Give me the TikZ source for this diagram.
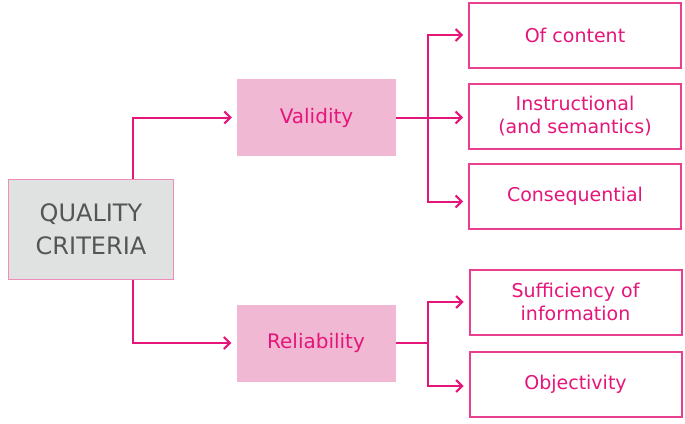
\documentclass[tikz,border=0pt]{standalone}
\usepackage{fontspec}
\setmainfont{DejaVu Sans}
\usetikzlibrary{arrows.meta}
\definecolor{pk}{HTML}{E5157A}
\definecolor{pkfill}{HTML}{F0B8D3}
\definecolor{pkborder}{HTML}{F08CB8}
\definecolor{leafborder}{HTML}{E8408E}
\definecolor{gyfill}{HTML}{E0E2E2}
\definecolor{gytext}{HTML}{555555}
\tikzset{
  qbox/.style={draw=pkborder, line width=1.4pt, fill=gyfill, text=gytext, align=center,
    minimum width=165pt, minimum height=100pt, inner sep=0pt,
    font=\fontsize{24}{33}\selectfont},
  midbox/.style={fill=pkfill, text=pk, minimum width=159pt, minimum height=77pt, inner sep=0pt,
    font=\fontsize{20}{24}\selectfont},
  leafbox/.style={draw=leafborder, line width=2pt, fill=white, text=pk, align=center,
    minimum width=212pt, minimum height=65pt, inner sep=0pt,
    font=\fontsize{19}{23}\selectfont},
  wire/.style={draw=pk, line width=2pt},
  conn/.style={wire, -{Straight Barb[length=6pt,width=12pt]}, shorten >=5pt},
}
\begin{document}
\begin{tikzpicture}[x=1pt,y=-1pt]
\useasboundingbox (0,0) rectangle (685,423);
\node[qbox] (qc) at (91,229.5) {QUALITY\\CRITERIA};
\node[midbox] (val) at (316.5,117.5) {Validity};
\node[midbox] (rel) at (316,343) {Reliability};
\node[leafbox] (cont) at (575,35) {Of content};
\node[leafbox] (instr) at (575,116) {Instructional\\(and semantics)};
\node[leafbox] (cons) at (575,196.5) {Consequential};
\node[leafbox] (suff) at (575.5,302) {Sufficiency of\\information};
\node[leafbox] (obj) at (575.5,384) {Objectivity};
% main connectors
\draw[conn] ([xshift=42pt]qc.north) |- (val.west);
\draw[conn] ([xshift=42pt]qc.south) |- (rel.west);
% validity branches
\coordinate (vb) at (428,117.5);
\draw[wire] (val.east) -- (vb);
\draw[conn] (vb) -- (instr.west |- val.east);
\draw[conn] (vb) |- (cont.west);
\draw[conn] (vb) |- ([yshift=-5pt]cons.west);
% reliability branches
\coordinate (rb) at (428,343);
\draw[wire] (rel.east) -- (rb);
\draw[conn] (rb) |- (suff.west);
\draw[conn] (rb) |- ([yshift=-2pt]obj.west);
\end{tikzpicture}
\end{document}
